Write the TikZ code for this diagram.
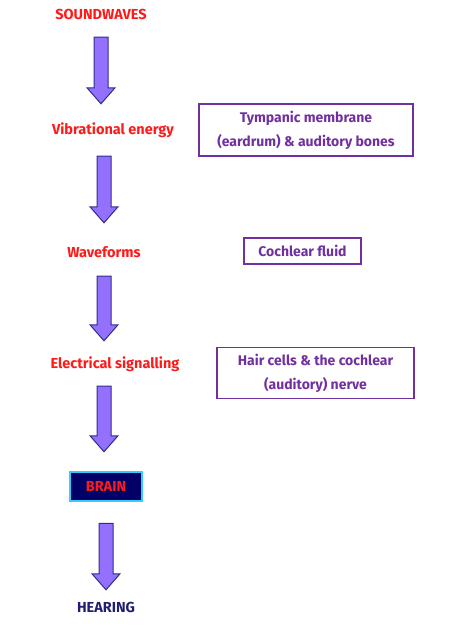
\documentclass[tikz,border=0pt]{standalone}
\usepackage{fontspec}
\setmainfont{Fira Sans}
\usetikzlibrary{calc}
\definecolor{stagered}{HTML}{FF1A1A}
\definecolor{boxpurple}{HTML}{7030A0}
\definecolor{arrowfill}{HTML}{9470FF}
\definecolor{arrowline}{HTML}{2E2E8A}
\definecolor{brainfill}{HTML}{000066}
\definecolor{brainedge}{HTML}{33CCFF}
\definecolor{hearnavy}{HTML}{1F1F70}

\tikzset{
  stage/.style={text=stagered, font=\bfseries\fontsize{14.5}{17}\selectfont, inner sep=0pt, text height=11pt, text depth=3pt},
  part/.style={draw=boxpurple, line width=1.8pt, text=boxpurple, font=\bfseries\fontsize{14}{24}\selectfont, align=center, inner sep=0pt},
  blockarrow/.style={fill=arrowfill, draw=arrowline, line width=1pt, line join=miter,
    to path={let \p1=(\tikztostart), \p2=(\tikztotarget) in
      ({#1pt-7pt},\y1) -- ({#1pt+7pt},\y1) -- ({#1pt+7pt},\y2+16pt) -- ({#1pt+14pt},\y2+16pt)
      -- ({#1pt},\y2) -- ({#1pt-14pt},\y2+16pt) -- ({#1pt-7pt},\y2+16pt) -- cycle}}
}

\begin{document}
\begin{tikzpicture}[x=1pt, y=-1pt]
  \useasboundingbox (0,0) rectangle (474,627);

  % Stages on the left
  \node[stage] (sound) at (101,15) {SOUNDWAVES};
  \node[stage] (vib)   at (113,130) {Vibrational energy};
  \node[stage] (wave)  at (104,253) {Waveforms};
  \node[stage] (elec)  at (115,364) {Electrical signalling};
  \node[draw=brainedge, fill=brainfill, line width=2.5pt, text=stagered,
        font=\bfseries\fontsize{14.5}{17}\selectfont, minimum width=72pt, minimum height=29pt,
        inner sep=0pt] (brain) at (106,486.5) {BRAIN};
  \node[stage, text=hearnavy] (hear) at (106,608) {HEARING};

  % Parts of the ear on the right
  \node[part, minimum width=214pt, minimum height=52pt] (tymp) at (306,130)
    {Tympanic membrane\\(eardrum) \& auditory bones};
  \node[part, minimum width=117pt, minimum height=26pt] (coch) at (302.5,251) {Cochlear fluid};
  \node[part, minimum width=197pt, minimum height=51pt] (hair) at (315.5,373)
    {Hair cells \& the cochlear\\(auditory) nerve};

  % Arrows down the chain
  \draw[blockarrow=101] ([yshift=-15pt]sound.south) to ([yshift=19pt]vib.north);
  \draw[blockarrow=104] ([yshift=-19pt]vib.south) to ([yshift=23pt]wave.north);
  \draw[blockarrow=104] ([yshift=-16pt]wave.south) to ([yshift=16pt]elec.north);
  \draw[blockarrow=104] ([yshift=-15pt]elec.south) to ([yshift=19pt]brain.north);
  \draw[blockarrow=106] ([yshift=-21pt]brain.south) to ([yshift=11pt]hear.north);
\end{tikzpicture}
\end{document}
